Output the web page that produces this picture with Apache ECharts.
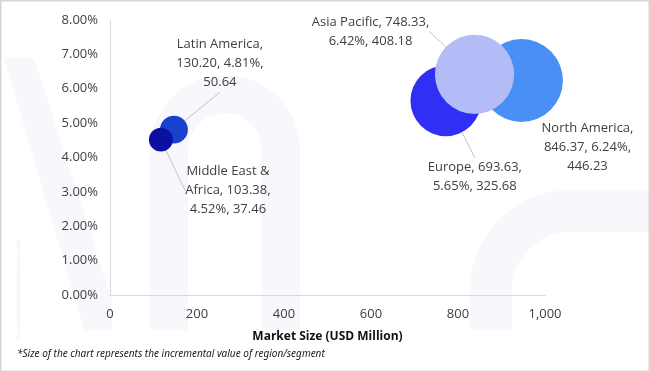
<!DOCTYPE html>
<html><head><meta charset="utf-8">
<script src="https://cdn.jsdelivr.net/npm/echarts@6/dist/echarts.min.js"></script>
<style>html,body{margin:0;padding:0;background:#fff}#c{width:650px;height:372px}</style>
</head><body><div id="c"></div>
<script>
// ---- data ----
const regions = ['North America', 'Europe', 'Asia Pacific', 'Latin America', 'Middle East & Africa'];
const marketSize = [846.37, 693.63, 748.33, 130.20, 103.38];      // labelled market size (USD Mn)
const plottedSize = [946, 772, 838, 147, 117];                    // where the bubbles sit on the x axis
const growthPct = [6.24, 5.65, 6.42, 4.81, 4.52];                 // y values (%)
const increment = [446.23, 325.68, 408.18, 50.64, 37.46];         // bubble size values
const xTicks = [0, 200, 400, 600, 800, 1000];
const yTicks = [0, 1, 2, 3, 4, 5, 6, 7, 8];

// ---- styling ----
const colors = ['#4a8ff5', '#2f2ff5', '#b3bcf7', '#1a40cf', '#0b10a3'];
const labelLines = [
  ['North America,', '846.37, 6.24%,', '446.23'],
  ['Europe, 693.63,', '5.65%, 325.68'],
  ['Asia Pacific, 748.33,', '6.42%, 408.18'],
  ['Latin America,', '130.20, 4.81%,', '50.64'],
  ['Middle East &', 'Africa, 103.38,', '4.52%, 37.46']
];
const labelShift = [[66, 67], [29, 76], [-104, -43], [46, -66], [67, 51]];
const FONT = '"Open Sans", "Noto Sans", sans-serif';
const TXT = '#404040';

function labelText(i) {
  const parts = {name: regions[i], size: marketSize[i].toFixed(2), pct: growthPct[i].toFixed(2) + '%', inc: increment[i].toFixed(2)};
  const full = [parts.name, parts.size, parts.pct, parts.inc].join(', ');
  const out = [];
  let rest = full;
  labelLines[i].forEach((ln, k) => {
    if (k === labelLines[i].length - 1) { out.push(rest); return; }
    const take = ln.replace(/,$/, '');
    let idx = rest.indexOf(take) + take.length;
    out.push(rest.slice(0, idx) + (ln.endsWith(',') ? ',' : ''));
    rest = rest.slice(idx).replace(/^,?\s*/, '');
  });
  return out.join('\n');
}

const chart = echarts.init(document.getElementById('c'), null, {renderer: 'canvas'});
const data = regions.map((r, i) => ({
  name: r,
  value: [plottedSize[i], growthPct[i], increment[i]],
  itemStyle: {color: colors[i], opacity: 1},
  labelLine: {show: i !== 0}
}));

const WM = '#f8f8fc';
chart.setOption({
  animation: false,
  backgroundColor: '#fff',
  graphic: [
    {type: 'polygon', silent: true, z: -10, shape: {points: [[4, 58], [34, 58], [112, 300], [112, 330], [84, 330]]}, style: {fill: WM}},
    {type: 'sector', silent: true, z: -10, shape: {cx: 225, cy: 150, r: 75, r0: 37, startAngle: Math.PI, endAngle: 2 * Math.PI}, style: {fill: WM}},
    {type: 'rect', silent: true, z: -10, shape: {x: 150, y: 150, width: 38, height: 180}, style: {fill: WM}},
    {type: 'rect', silent: true, z: -10, shape: {x: 262, y: 150, width: 38, height: 180}, style: {fill: WM}},
    {type: 'sector', silent: true, z: -10, shape: {cx: 570, cy: 290, r: 100, r0: 58, startAngle: Math.PI, endAngle: 1.5 * Math.PI}, style: {fill: WM}},
    {type: 'rect', silent: true, z: -10, shape: {x: 470, y: 290, width: 42, height: 40}, style: {fill: WM}},
    {type: 'rect', silent: true, z: -10, shape: {x: 570, y: 190, width: 80, height: 42}, style: {fill: WM}},
    {type: 'text', silent: true, z: -5, rotation: Math.PI / 2, x: 15, y: 340, style: {text: '© www.maximizemarketresearch.com', fill: '#ececf2', font: '6px sans-serif'}},
    {type: 'rect', silent: true, z: 100, shape: {x: 0.5, y: 0.5, width: 649, height: 371}, style: {fill: 'none', stroke: '#d6d6d6', lineWidth: 2}},
    {type: 'text', left: 17, top: 349, style: {text: '*Size of the chart represents the incremental value of region/segment', fill: '#1a1a1a', font: 'italic 10px "Noto Sans", sans-serif'}}
  ],
  grid: {left: 110, right: 105, top: 20, bottom: 77},
  xAxis: {
    type: 'value', min: xTicks[0], max: xTicks[xTicks.length - 1], interval: xTicks[1] - xTicks[0],
    name: 'Market Size (USD Million)', nameLocation: 'middle', nameGap: 36,
    nameTextStyle: {fontFamily: FONT, fontWeight: 'bold', fontSize: 12, color: '#111'},
    axisLine: {show: true, lineStyle: {color: '#d9d9d9', width: 1}},
    axisTick: {show: false}, splitLine: {show: false},
    axisLabel: {margin: 13, color: TXT, fontFamily: FONT, fontSize: 13, formatter: v => v.toLocaleString('en-US')}
  },
  yAxis: {
    type: 'value', min: yTicks[0], max: yTicks[yTicks.length - 1], interval: yTicks[1] - yTicks[0],
    axisLine: {show: true, lineStyle: {color: '#d9d9d9', width: 1}},
    axisTick: {show: false}, splitLine: {show: false},
    axisLabel: {margin: 12, color: TXT, fontFamily: FONT, fontSize: 13, formatter: v => v.toFixed(2) + '%'}
  },
  series: [{
    type: 'scatter',
    data: data,
    symbol: 'circle',
    symbolSize: v => 3.92 * Math.sqrt(v[2]),
    label: {
      show: true, position: 'inside', color: TXT, fontFamily: FONT, fontSize: 13, lineHeight: 19, align: 'center',
      formatter: p => labelText(p.dataIndex)
    },
    labelLine: {show: true, lineStyle: {color: '#c4c4c4', width: 1}},
    labelLayout: p => ({dx: labelShift[p.dataIndex][0], dy: labelShift[p.dataIndex][1]}),
    emphasis: {disabled: true}
  }]
});
</script></body></html>
